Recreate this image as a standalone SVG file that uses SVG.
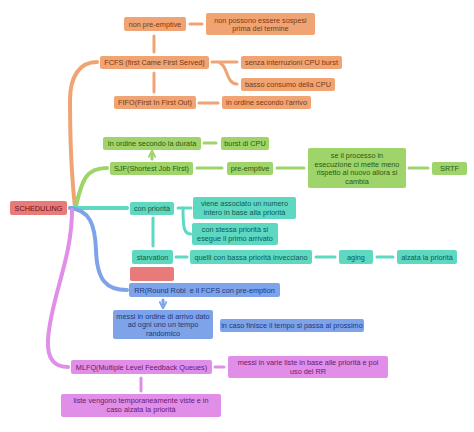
<svg xmlns="http://www.w3.org/2000/svg" width="474" height="432" viewBox="0 0 474 432">
<defs>
<marker id="ag" viewBox="0 0 6 6" refX="3" refY="3" markerWidth="2.4" markerHeight="2.4" orient="auto"><path d="M0,0 L6,3 L0,6" fill="none" stroke="#9ed46a" stroke-width="1.5"/></marker>
<marker id="ab" viewBox="0 0 6 6" refX="3" refY="3" markerWidth="2.4" markerHeight="2.4" orient="auto"><path d="M0,0 L6,3 L0,6" fill="none" stroke="#7ea3e8" stroke-width="1.5"/></marker>
</defs>
<style>
text{font-family:"Liberation Sans",Arial,sans-serif;font-size:7.3px;text-anchor:middle}
.o rect{fill:#f0a474}.o text{fill:#7a3a12}
.g rect{fill:#9ed46a}.g text{fill:#2c5a10}
.t rect{fill:#5fd8c2}.t text{fill:#0d5a50}
.b rect{fill:#7ea3e8}.b text{fill:#1a3a82}
.p rect{fill:#e08ee8}.p text{fill:#6a1a72}
.r rect{fill:#e87a7a}.r text{fill:#6a1212}
rect{rx:2;ry:2}
#connectors path{fill:none;stroke-linecap:round}
.co{stroke:#f0a474}.cg{stroke:#9ed46a}.ct{stroke:#5fd8c2}.cb{stroke:#7ea3e8}.cp{stroke:#e08ee8}
.m{stroke-width:4}.s{stroke-width:3}
</style>
<rect width="474" height="432" fill="#ffffff" rx="0"/>
<g id="connectors">
<path class="co m" d="M75 207 C72 180 70 140 70 100 C70 76 80 62 97 62"/>
<path class="co s" d="M190 24 L202 24"/>
<path class="co s" d="M154 36 L154 52"/>
<path class="co s" d="M154 73 L154 92"/>
<path class="co s" d="M199 103 L218 103"/>
<path class="co s" d="M212 62 L237 62"/>
<path class="co s" d="M220 63 C228 66 226 84 237 84"/>
<path class="cg m" d="M76 206 C82 180 86 168 107 168"/>
<path class="cg s" d="M204 143 L216 143"/>
<path class="cg s" d="M152 159 L152 154" marker-end="url(#ag)"/>
<path class="cg s" d="M197 168 L222 168"/>
<path class="cg s" d="M277 168 L304 168"/>
<path class="cg s" d="M409 168 L428 168"/>
<path class="ct m" d="M70 208 L127 208"/>
<path class="ct s" d="M178 208 L191 208"/>
<path class="ct s" d="M183 208 C183 228 184 234 191 234"/>
<path class="ct s" d="M153 218 L153 246"/>
<path class="ct s" d="M176 257 L187 257"/>
<path class="ct s" d="M316 257 L335 257"/>
<path class="ct s" d="M377 257 L393 257"/>
<path class="cb m" d="M70 208 C90 210 95 225 96 250 C97 280 106 290 127 290"/>
<path class="cb s" d="M163 300 L163 305" marker-end="url(#ab)"/>
<path class="cp m" d="M72 210 C72 260 50 300 48 340 C47 360 55 367 68 367"/>
<path class="cp s" d="M215 367 L224 367"/>
<path class="cp s" d="M141 378 L141 391"/>
</g>
<g id="n-scheduling" class="r"><rect x="10" y="201" width="57" height="14"/><text x="38.5" y="210.5">SCHEDULING</text></g>
<g id="n-nonpre" class="o"><rect x="124" y="17" width="62" height="14"/><text x="155" y="26.5">non pre-emptive</text></g>
<g id="n-nonposs" class="o"><rect x="206" y="13" width="109" height="22"/><text x="260.5" y="22.5">non possono essere sospesi</text><text x="260.5" y="31">prima del termine</text></g>
<g id="n-fcfs" class="o"><rect x="100" y="56" width="109" height="13"/><text x="154.5" y="65">FCFS (first Came First Served)</text></g>
<g id="n-senza" class="o"><rect x="241" y="56" width="101" height="13"/><text x="291.5" y="65">senza interruzioni CPU burst</text></g>
<g id="n-basso" class="o"><rect x="241" y="78" width="94" height="13"/><text x="288" y="87">basso consumo della CPU</text></g>
<g id="n-fifo" class="o"><rect x="114" y="96" width="82" height="13"/><text x="155" y="105">FIFO(First In First Out)</text></g>
<g id="n-arrivo" class="o"><rect x="222" y="96" width="89" height="13"/><text x="266.5" y="105">in ordine secondo l'arrivo</text></g>
<g id="n-durata" class="g"><rect x="103" y="137" width="98" height="13"/><text x="152" y="146">In ordine secondo la durata</text></g>
<g id="n-burst" class="g"><rect x="221" y="137" width="48" height="13"/><text x="245" y="146">burst di CPU</text></g>
<g id="n-sjf" class="g"><rect x="110" y="162" width="83" height="13"/><text x="151.5" y="171">SJF(Shortest Job First)</text></g>
<g id="n-preemp" class="g"><rect x="227" y="162" width="46" height="13"/><text x="250" y="171">pre-emptive</text></g>
<g id="n-seil" class="g"><rect x="308" y="148" width="98" height="40"/><text x="357" y="158">se il processo in</text><text x="357" y="166.5">esecuzione ci mette meno</text><text x="357" y="175">rispetto al nuovo allora si</text><text x="357" y="183.5">cambia</text></g>
<g id="n-srtf" class="g"><rect x="432" y="162" width="35" height="13"/><text x="449.5" y="171">SRTF</text></g>
<g id="n-conprio" class="t"><rect x="130" y="202" width="44" height="13"/><text x="152" y="211">con priorità</text></g>
<g id="n-viene" class="t"><rect x="193" y="197" width="103" height="22"/><text x="244.5" y="206">viene associato un numero</text><text x="244.5" y="214.5">intero in base alla priorità</text></g>
<g id="n-stessa" class="t"><rect x="192" y="223" width="86" height="22"/><text x="235" y="232">con stessa priorità si</text><text x="235" y="240.5">esegue il primo arrivato</text></g>
<g id="n-starv" class="t"><rect x="132" y="250" width="41" height="14"/><text x="152.5" y="259.5">starvation</text></g>
<g id="n-quelli" class="t"><rect x="190" y="250" width="122" height="14"/><text x="251" y="259.5">quelli con bassa priorità invecciano</text></g>
<g id="n-aging" class="t"><rect x="339" y="250" width="34" height="14"/><text x="356" y="259.5">aging</text></g>
<g id="n-alzata" class="t"><rect x="397" y="250" width="60" height="14"/><text x="427" y="259.5">alzata la priorità</text></g>
<g id="n-empty" class="r"><rect x="130" y="267" width="44" height="14"/></g>
<g id="n-rr" class="b"><rect x="129" y="283" width="151" height="14"/><text x="204.5" y="292.5" xml:space="preserve">RR(Round Robi  e il FCFS con pre-emption</text></g>
<g id="n-messi" class="b"><rect x="113" y="310" width="100" height="29"/><text x="163" y="319">messi in ordine di arrivo dato</text><text x="163" y="327">ad ogni uno un tempo</text><text x="163" y="335.5">randomico</text></g>
<g id="n-caso" class="b"><rect x="220" y="319" width="144" height="13"/><text x="292" y="328">in caso finisce il tempo si passa al prossimo</text></g>
<g id="n-mlfq" class="p"><rect x="71" y="360" width="141" height="14"/><text x="141.5" y="369.5">MLFQ(Multiple Level Feedback Queues)</text></g>
<g id="n-varie" class="p"><rect x="228" y="356" width="160" height="22"/><text x="308" y="365">messi in varie liste in base alle priorità e poi</text><text x="308" y="373.5">uso del RR</text></g>
<g id="n-liste" class="p"><rect x="61" y="394" width="160" height="23"/><text x="141" y="403">liste vengono temporaneamente viste e in</text><text x="141" y="411.5">caso alzata la priorità</text></g>
</svg>
